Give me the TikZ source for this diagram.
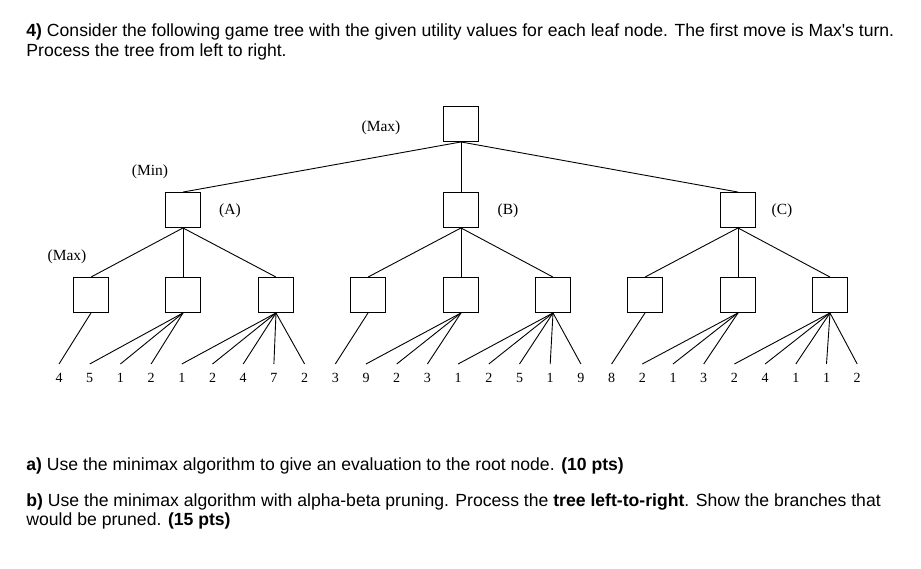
\documentclass[tikz,border=0pt]{standalone}
\usepackage{fontspec}
\setmainfont{Liberation Serif}
\newfontfamily\qfont{Liberation Sans}
\usetikzlibrary{positioning}

\begin{document}
\begin{tikzpicture}[x=1pt,y=-1pt, line width=0.9pt,
    box/.style={draw, minimum size=35pt, inner sep=0pt},
    leaf/.style={font=\fontsize{14}{14}\selectfont, inner sep=1pt},
    lab/.style={font=\fontsize{15.5}{15.5}\selectfont},
    q/.style={anchor=west, font=\qfont\fontsize{17.6}{19}\selectfont, inner sep=0pt}]
    \useasboundingbox (0,0) rectangle (921,568);

    \node[q] at (26,32) {\textbf{4)} Consider the following game tree with the given utility values for each leaf node. The first move is Max's turn.};
    \node[q] at (26,52) {Process the tree from left to right.};

    % tree
    \node[box] (root) at (461,124) {};
    \node[box] (A) at (183,210) {};
    \node[box] (B) at (461,210) {};
    \node[box] (C) at (738,210) {};
    \foreach \i/\x in {1/91,2/183,3/276,4/368,5/461,6/553,7/645,8/738,9/830}
        \node[box] (m\i) at (\x,295) {};

    \foreach \c in {A,B,C}
        \draw (root.south) -- (\c.north);
    \draw (A.south) -- (m1.north); \draw (A.south) -- (m2.north); \draw (A.south) -- (m3.north);
    \draw (B.south) -- (m4.north); \draw (B.south) -- (m5.north); \draw (B.south) -- (m6.north);
    \draw (C.south) -- (m7.north); \draw (C.south) -- (m8.north); \draw (C.south) -- (m9.north);

    % leaves
    \foreach \v [count=\k] in {4,5,1,2,1,2,4,7,2,3,9,2,3,1,2,5,1,9,8,2,1,3,2,4,1,1,2}
        \node[leaf] (l\k) at ({59+(\k-1)*30.7},378) {\v};
    \foreach \p/\a/\b in {1/1/1,2/2/4,3/5/9,4/10/10,5/11/13,6/14/18,7/19/19,8/20/22,9/23/27}
        \foreach \k in {\a,...,\b}
            \draw (m\p.south) -- ([yshift=14pt]l\k.center);

    \node[lab] at (381,128) {(Max)};
    \node[lab] at (150,172) {(Min)};
    \node[lab] at (67,257) {(Max)};
    \node[lab] at (230,211) {(A)};
    \node[lab] at (508,211) {(B)};
    \node[lab] at (782,211) {(C)};

    \node[q] at (26,466) {\textbf{a)} Use the minimax algorithm to give an evaluation to the root node. \textbf{(10 pts)}};
    \node[q] at (26,502) {\textbf{b)} Use the minimax algorithm with alpha-beta pruning. Process the \textbf{tree left-to-right}. Show the branches that};
    \node[q] at (26,521) {would be pruned. \textbf{(15 pts)}};
\end{tikzpicture}
\end{document}
